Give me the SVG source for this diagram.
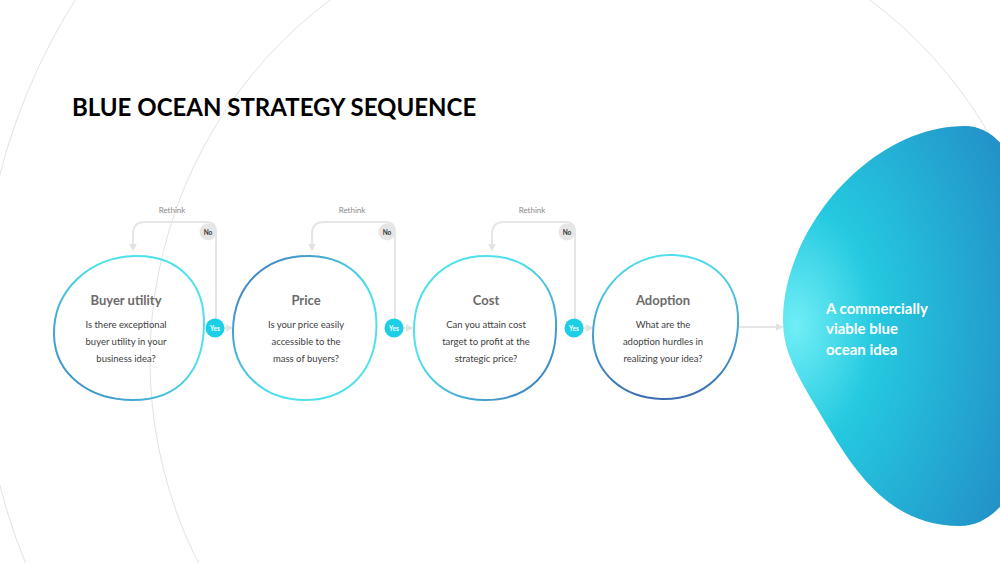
<svg xmlns="http://www.w3.org/2000/svg" width="1000" height="563" viewBox="0 0 1000 563">
<style>
.bg{fill:none;stroke:#e3e3e3;stroke-width:1}
.ln{fill:none;stroke:#e6e6e6;stroke-width:2}
.t{font-family:"Century Gothic","Lato","Liberation Sans",sans-serif;fill:#6b6b6b;text-anchor:middle}
.h{font-size:13px;font-weight:bold}
.b{font-size:9.5px;fill:#404040}
.s{font-size:8px;fill:#8a8a8a}
.y{font-family:"Lato","Liberation Sans",sans-serif;font-size:6.5px;font-weight:bold;fill:#fff;text-anchor:middle}
.n{font-family:"Lato","Liberation Sans",sans-serif;font-size:6.5px;font-weight:bold;fill:#333;text-anchor:middle}
</style>
<defs>
<linearGradient id="g1" x1="0" y1="1" x2="1" y2="0"><stop offset="0" stop-color="#3a7fc0"/><stop offset="0.6" stop-color="#4fe0ee"/></linearGradient>
<linearGradient id="g2" x1="0" y1="0" x2="1" y2="1"><stop offset="0" stop-color="#3c70b5"/><stop offset="0.6" stop-color="#4fe0ee"/></linearGradient>
<linearGradient id="g3" x1="0" y1="0" x2="1" y2="1"><stop offset="0.4" stop-color="#4fe0ee"/><stop offset="1" stop-color="#3c70b5"/></linearGradient>
<linearGradient id="g4" x1="0" y1="0" x2="0" y2="1"><stop offset="0" stop-color="#4fe0ee"/><stop offset="1" stop-color="#3c6cb3"/></linearGradient>
<radialGradient id="gb" cx="0.05" cy="0.5" r="1"><stop offset="0" stop-color="#70eef6"/><stop offset="0.3" stop-color="#25c9e0"/><stop offset="1" stop-color="#2288c4"/></radialGradient>
<marker id="ar" viewBox="0 0 10 10" refX="8" refY="5" markerWidth="4" markerHeight="4" orient="auto"><path d="M0,0L10,5L0,10z" fill="#e3e3e3"/></marker>
</defs>
<rect width="1000" height="563" fill="#fff"/>
<circle class="bg" cx="600" cy="360" r="450"/>
<circle class="bg" cx="600" cy="330" r="620"/>
<text x="72" y="116" font-family="Century Gothic,Lato,Liberation Sans,sans-serif" font-size="24" font-weight="bold" fill="#000">BLUE OCEAN STRATEGY SEQUENCE</text>
<g id="connectors">
<path class="ln" d="M216,319V232Q216,222 206,222H145Q133,222 133,234V250" marker-end="url(#ar)"/>
<path class="ln" d="M395,319V232Q395,222 385,222H324Q312,222 312,234V250" marker-end="url(#ar)"/>
<path class="ln" d="M575,319V232Q575,222 565,222H504Q492,222 492,234V250" marker-end="url(#ar)"/>
<path class="ln" d="M224,328H232" marker-end="url(#ar)"/>
<path class="ln" d="M403,328H412" marker-end="url(#ar)"/>
<path class="ln" d="M583,328H592" marker-end="url(#ar)"/>
<path class="ln" d="M739,327H782" marker-end="url(#ar)"/>
<text class="t s" x="172" y="213">Rethink</text>
<text class="t s" x="352" y="213">Rethink</text>
<text class="t s" x="532" y="213">Rethink</text>
<circle cx="208" cy="232" r="8.5" fill="#e6e6e6"/><text class="n" x="208" y="234.5">No</text>
<circle cx="387" cy="232" r="8.5" fill="#e6e6e6"/><text class="n" x="387" y="234.5">No</text>
<circle cx="567" cy="232" r="8.5" fill="#e6e6e6"/><text class="n" x="567" y="234.5">No</text>
<circle cx="215" cy="328" r="9.5" fill="#1ccfe6"/><text class="y" x="215" y="330.5">Yes</text>
<circle cx="394" cy="328" r="9.5" fill="#1ccfe6"/><text class="y" x="394" y="330.5">Yes</text>
<circle cx="574" cy="328" r="9.5" fill="#1ccfe6"/><text class="y" x="574" y="330.5">Yes</text>
</g>
<g id="n1">
<path d="M135,256C180,255 205,285 204,325C203,370 180,400 133,400C90,400 55,375 54,335C53,290 90,257 135,256Z" fill="none" stroke="url(#g1)" stroke-width="2"/>
<text class="t h" x="126" y="305">Buyer utility</text>
<text class="t b" x="126" y="328">Is there exceptional</text>
<text class="t b" x="126" y="345">buyer utility in your</text>
<text class="t b" x="126" y="362">business idea?</text>
</g>
<g id="n2">
<path d="M310,256C355,257 380,290 376,335C372,375 345,400 305,400C262,400 232,370 233,330C234,285 265,255 310,256Z" fill="none" stroke="url(#g2)" stroke-width="2"/>
<text class="t h" x="306" y="305">Price</text>
<text class="t b" x="306" y="328">Is your price easily</text>
<text class="t b" x="306" y="345">accessible to the</text>
<text class="t b" x="306" y="362">mass of buyers?</text>
</g>
<g id="n3">
<path d="M486,256C530,256 558,285 556,330C555,372 530,400 485,400C443,400 414,372 414,330C414,288 443,256 486,256Z" fill="none" stroke="url(#g3)" stroke-width="2"/>
<text class="t h" x="486" y="305">Cost</text>
<text class="t b" x="486" y="328">Can you attain cost</text>
<text class="t b" x="486" y="345">target to profit at the</text>
<text class="t b" x="486" y="362">strategic price?</text>
</g>
<g id="n4">
<path d="M674,255C710,257 740,280 738,325C736,370 705,400 662,399C622,398 594,372 593,337C592,290 630,253 674,255Z" fill="none" stroke="url(#g4)" stroke-width="2"/>
<text class="t h" x="663" y="305">Adoption</text>
<text class="t b" x="663" y="328">What are the</text>
<text class="t b" x="663" y="345">adoption hurdles in</text>
<text class="t b" x="663" y="362">realizing your idea?</text>
</g>
<g id="n5">
<path d="M965,126C1015,126 1045,210 1045,330C1045,450 1010,526 960,526C895,526 860,480 830,430C800,380 783,355 783,320C783,230 870,126 965,126Z" fill="url(#gb)"/>
<text font-family="Century Gothic,Lato,Liberation Sans,sans-serif" font-size="15" font-weight="bold" fill="#fff"><tspan x="826" y="314">A commercially</tspan><tspan x="826" y="334">viable blue</tspan><tspan x="826" y="355">ocean idea</tspan></text>
</g>
</svg>
